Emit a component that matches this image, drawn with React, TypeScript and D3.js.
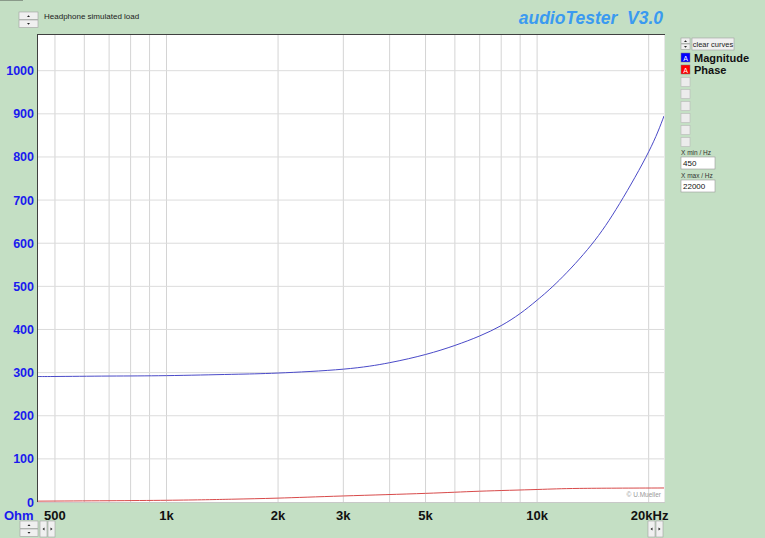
import React from "react";
import * as d3 from "d3";

const freqs = [450, 500, 700, 1000, 1500, 2000, 3000, 4000, 5000, 6000, 7000, 8000, 9000, 10000, 11500, 14000, 16700, 20000, 22000];
const magnitude = [291, 291, 292, 293, 296, 299, 308, 323, 342, 363, 385, 409, 437, 468, 515, 596, 692, 812, 895];
const phaseFreqs = [450, 1000, 1500, 2000, 3000, 5000, 7000, 10000, 13000, 22000];
const phase = [2, 4, 6.5, 9, 14, 20, 25, 29, 31.5, 32.5];
const gridFreqs = [500, 600, 700, 800, 900, 1000, 2000, 3000, 4000, 5000, 6000, 7000, 8000, 9000, 10000, 20000];
const xTickVals = [500, 1000, 2000, 3000, 5000, 10000, 20000];
const xTickLabels = ["500", "1k", "2k", "3k", "5k", "10k", "20kHz"];
const yTicks = [0, 100, 200, 300, 400, 500, 600, 700, 800, 900, 1000];
const legendNames = ["Magnitude", "Phase"];
const legendColors = ["#0000ff", "#ff0000"];

const W = 765, H = 538;
const L = 38, R = 664, T = 35, B = 502;
const BG = "#c4dfc4";
const FONT = "Arial, 'Liberation Sans', sans-serif";

function Spinner({ x, y, w, h }: { x: number; y: number; w: number; h: number }) {
  const hh = h / 2;
  return (
    <g>
      {[0, 1].map((i) => (
        <g key={i}>
          <rect x={x} y={y + i * hh} width={w} height={hh - 0.5} fill="#f0f0f0" stroke="#a0a0a0" strokeWidth={0.6} />
          <path
            d={i === 0
              ? `M${x + w / 2 - 1.5},${y + hh / 2 + 1} L${x + w / 2 + 1.5},${y + hh / 2 + 1} L${x + w / 2},${y + hh / 2 - 0.8} Z`
              : `M${x + w / 2 - 1.5},${y + hh + hh / 2 - 1} L${x + w / 2 + 1.5},${y + hh + hh / 2 - 1} L${x + w / 2},${y + hh + hh / 2 + 0.8} Z`}
            fill="#222"
          />
        </g>
      ))}
    </g>
  );
}

function ArrowBtn({ x, y, dir }: { x: number; y: number; dir: number }) {
  const w = 7, h = 16;
  const cx = x + w / 2, cy = y + h / 2;
  return (
    <g>
      <rect x={x} y={y} width={w} height={h} fill="#f0f0f0" stroke="#a0a0a0" strokeWidth={0.6} />
      <path d={dir < 0 ? `M${cx + 1},${cy - 1.5} L${cx + 1},${cy + 1.5} L${cx - 1},${cy} Z` : `M${cx - 1},${cy - 1.5} L${cx - 1},${cy + 1.5} L${cx + 1},${cy} Z`} fill="#222" />
    </g>
  );
}

export default function App() {
  const x = d3.scaleLog().domain([450, 22000]).range([L, R]);
  const y = d3.scaleLinear().domain([0, 1000]).range([B, 70.7]);
  const line = d3.line<[number, number]>().x((d) => x(d[0])).y((d) => y(d[1])).curve(d3.curveNatural);
  const magPath = line(freqs.map((f, i) => [f, magnitude[i]]) as [number, number][]) || "";
  const phPath = line(phaseFreqs.map((f, i) => [f, phase[i]]) as [number, number][]) || "";

  return (
    <svg width={W} height={H} style={{ position: "fixed", left: 0, top: 0 }} fontFamily={FONT}>
      <rect x={0} y={0} width={W} height={H} fill={BG} />
      <line x1={0} y1={0.5} x2={23} y2={0.5} stroke="#8a9a8a" />
      {/* plot */}
      <rect x={L} y={T} width={R - L} height={B - T} fill="#ffffff" />
      {gridFreqs.map((f) => (
        <line key={f} x1={x(f)} x2={x(f)} y1={T} y2={B} stroke="#d4d4d4" strokeWidth={1} />
      ))}
      {yTicks.filter((v) => v > 0).map((v) => (
        <line key={v} x1={L} x2={R} y1={y(v)} y2={y(v)} stroke="#dcdcdc" strokeWidth={1} />
      ))}
      <path d={phPath} fill="none" stroke="#d84a4a" strokeWidth={1} />
      <path d={magPath} fill="none" stroke="#4a4ac8" strokeWidth={1} />
      <text x={R - 3} y={B - 5} textAnchor="end" fontSize={6.5} fill="#999">© U.Mueller</text>
      {/* border */}
      <line x1={L - 0.5} y1={T} x2={L - 0.5} y2={B + 1} stroke="#404040" strokeWidth={1} />
      <line x1={L - 1} y1={T - 0.5} x2={R + 1} y2={T - 0.5} stroke="#404040" strokeWidth={1} />
      <line x1={R + 0.5} y1={T} x2={R + 0.5} y2={B + 1} stroke="#e8e8e8" strokeWidth={1} />
      <line x1={L - 1} y1={B + 0.5} x2={R + 1} y2={B + 0.5} stroke="#c8c8c8" strokeWidth={1} />
      {/* y labels */}
      {yTicks.map((v) => (
        <text key={v} x={34} y={y(v)} dy="0.36em" textAnchor="end" fontSize={12.5} fontWeight="bold" fill="#1a1aee">{v}</text>
      ))}
      <text x={4} y={520} fontSize={13} fontWeight="bold" fill="#1a1aee">Ohm</text>
      {/* x labels */}
      {xTickVals.map((f, i) => (
        <text key={f} x={i === xTickVals.length - 1 ? x(f) + 1 : x(f)} y={520} textAnchor="middle" fontSize={13} fontWeight="bold" fill="#111">{xTickLabels[i]}</text>
      ))}
      {/* top */}
      <Spinner x={19} y={12} w={19} h={16} />
      <text x={44} y={19} fontSize={8} fill="#222">Headphone simulated load</text>
      <text x={663} y={24} textAnchor="end" fontSize={17.5} fontWeight="bold" fontStyle="italic" fill="#3a9af0" xmlSpace="preserve" style={{ whiteSpace: "pre" }}>{"audioTester  V3.0"}</text>
      {/* bottom controls */}
      <Spinner x={20} y={521} w={18} h={16} />
      <ArrowBtn x={40} y={521} dir={-1} />
      <ArrowBtn x={48} y={521} dir={1} />
      <ArrowBtn x={648} y={521} dir={-1} />
      <ArrowBtn x={656} y={521} dir={1} />
      {/* right panel */}
      <Spinner x={681} y={38} w={9} h={12} />
      <rect x={692} y={38} width={42} height={12} fill="#f0f0f0" stroke="#a0a0a0" strokeWidth={0.6} />
      <text x={713} y={47} textAnchor="middle" fontSize={7.5} fill="#222">clear curves</text>
      {legendNames.map((n, i) => (
        <g key={n}>
          <rect x={681} y={53 + i * 12} width={9} height={9} fill={legendColors[i]} stroke="#777" strokeWidth={0.5} />
          <text x={685.5} y={60.5 + i * 12} textAnchor="middle" fontSize={7} fill="#fff">A</text>
          <text x={694} y={61.5 + i * 12} fontSize={11} fontWeight="bold" fill="#111">{n}</text>
        </g>
      ))}
      {[0, 1, 2, 3, 4, 5].map((i) => (
        <rect key={i} x={681} y={77.5 + i * 12} width={9} height={9} fill="#ececec" stroke="#b8b8b8" strokeWidth={0.6} />
      ))}
      <text x={681} y={155} fontSize={6.5} fill="#333">X min / Hz</text>
      <rect x={681} y={157} width={34} height={12} fill="#fff" stroke="#999" strokeWidth={0.6} />
      <text x={683} y={166} fontSize={8} fill="#111">450</text>
      <text x={681} y={178} fontSize={6.5} fill="#333">X max / Hz</text>
      <rect x={681} y={180} width={34} height={12} fill="#fff" stroke="#999" strokeWidth={0.6} />
      <text x={683} y={189} fontSize={8} fill="#111">22000</text>
    </svg>
  );
}
